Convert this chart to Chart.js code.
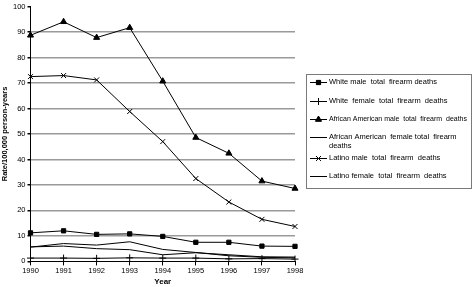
<!DOCTYPE html>
<html>
<head>
<meta charset="utf-8">
<script src="https://cdn.jsdelivr.net/npm/chart.js@4.4.0/dist/chart.umd.min.js"></script>
<style>
  html, body { margin: 0; padding: 0; background: #fff; }
  #wrap { width: 474px; height: 287px; }
</style>
</head>
<body>
<div id="wrap"><canvas id="myChart" width="474" height="287"></canvas></div>
<script>
const years = ['1990', '1991', '1992', '1993', '1994', '1995', '1996', '1997', '1998'];
const whiteMale = [11.2, 12.0, 10.6, 10.8, 9.8, 7.5, 7.5, 6.0, 5.9];
const whiteFemale = [1.3, 1.3, 1.2, 1.4, 1.3, 1.3, 1.0, 1.1, 0.9];
const afAmMale = [88.7, 94.0, 87.8, 91.7, 70.7, 48.6, 42.4, 31.5, 28.6];
const afAmFemale = [5.6, 7.0, 6.4, 7.7, 4.7, 3.5, 2.2, 1.6, 1.4];
const latinoMale = [72.5, 72.9, 71.2, 58.8, 47.0, 32.5, 23.3, 16.5, 13.7];
const latinoFemale = [5.7, 6.0, 5.0, 4.6, 2.6, 3.4, 2.6, 1.8, 1.7];

const legendLabels = [
    ['White male  total  firearm deaths'],
    ['White  female  total  firearm  deaths'],
    ['African American male  total  firearm  deaths'],
    ['African American  female total  firearm', 'deaths'],
    ['Latino male  total  firearm  deaths'],
    ['Latino female  total  firearm  deaths']
];

const FONT = "'Liberation Sans', Arial, sans-serif";

function series(label, data, style, radius) {
    return {
        label: label,
        data: data,
        borderColor: '#000',
        backgroundColor: '#000',
        borderWidth: 1,
        pointStyle: style,
        pointRadius: radius,
        pointBorderWidth: 1,
        tension: 0
    };
}

// legend box drawn by hand, the 4th entry wraps to two lines
const boxLegend = {
    id: 'boxLegend',
    afterDraw(chart) {
        const ctx = chart.ctx;
        const bx = 306, by = 74, bw = 165, bh = 114;
        const rows = [82, 101, 119, 137, 158, 176];
        ctx.save();
        ctx.strokeStyle = '#7a7a7a';
        ctx.lineWidth = 1;
        ctx.strokeRect(bx + 0.5, by + 0.5, bw, bh);
        ctx.font = '7.5px ' + FONT;
        ctx.fillStyle = '#000';
        ctx.textBaseline = 'middle';
        chart.data.datasets.forEach((ds, i) => {
            const y = rows[i];
            ctx.strokeStyle = '#000';
            ctx.beginPath();
            ctx.moveTo(310, y + 0.5);
            ctx.lineTo(327, y + 0.5);
            ctx.stroke();
            if (ds.pointRadius > 0) {
                Chart.helpers.drawPoint(ctx, {
                    pointStyle: ds.pointStyle,
                    radius: ds.pointRadius,
                    rotation: 0,
                    borderWidth: 1
                }, 318.5, y + 0.5);
                ctx.fill();
            }
            legendLabels[i].forEach((t, k) => {
                ctx.fillText(t, 329, y + k * 9, 138);
            });
        });
        ctx.restore();
    }
};

const ctx = document.getElementById('myChart');

new Chart(ctx, {
    type: 'line',
    data: {
        labels: years,
        datasets: [
            series('White male total firearm deaths', whiteMale, 'rect', 3),
            series('White female total firearm deaths', whiteFemale, 'cross', 3.5),
            series('African American male total firearm deaths', afAmMale, 'triangle', 3.5),
            series('African American female total firearm deaths', afAmFemale, 'line', 0),
            series('Latino male total firearm deaths', latinoMale, 'crossRot', 3.5),
            series('Latino female total firearm deaths', latinoFemale, 'line', 0)
        ]
    },
    options: {
        responsive: false,
        animation: false,
        layout: { padding: { top: 1, right: 179, bottom: 0, left: 0 } },
        plugins: {
            legend: { display: false },
            tooltip: { enabled: false }
        },
        scales: {
            x: {
                offset: false,
                title: {
                    display: true,
                    text: 'Year',
                    color: '#000',
                    font: { family: FONT, size: 8, weight: 'bold' },
                    padding: { top: 1, bottom: 0 }
                },
                ticks: {
                    color: '#000',
                    font: { family: FONT, size: 7.5 },
                    maxRotation: 0,
                    padding: 1
                },
                grid: { drawOnChartArea: false, tickColor: '#000', tickLength: 4 },
                border: { color: '#000', width: 1 }
            },
            y: {
                min: 0,
                max: 100,
                title: {
                    display: true,
                    text: 'Rate/100,000 person-years',
                    color: '#000',
                    font: { family: FONT, size: 7.5, weight: 'bold' },
                    padding: { top: 0, bottom: 2 }
                },
                ticks: {
                    stepSize: 10,
                    color: '#000',
                    font: { family: FONT, size: 7.5 },
                    padding: 2
                },
                grid: {
                    color: c => (c.tick && (c.tick.value === 0 || c.tick.value === 100)) ? 'rgba(0,0,0,0)' : '#9a9a9a',
                    lineWidth: 1.5,
                    tickColor: '#000',
                    tickLength: 3
                },
                border: { color: '#000', width: 1 }
            }
        }
    },
    plugins: [boxLegend]
});
</script>
</body>
</html>
